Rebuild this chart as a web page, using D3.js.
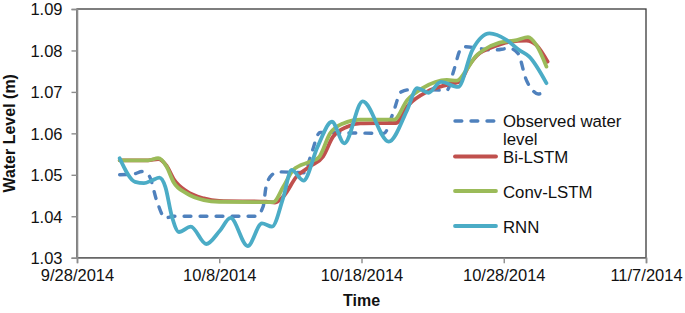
<!DOCTYPE html>
<html><head><meta charset="utf-8">
<script src="https://cdnjs.cloudflare.com/ajax/libs/d3/7.8.5/d3.min.js"></script>
<style>body{margin:0;background:#fff}svg{display:block;font-family:"Liberation Sans",Arial,sans-serif}</style>
</head><body><svg id="c" width="685" height="313"></svg>
<script>
// ---- data (times as "MM/DD HH", year 2014) ----
const seriesNames = ["Observed water level", "Bi-LSTM", "Conv-LSTM", "RNN"];
const xTickLabels = ["9/28/2014", "10/8/2014", "10/18/2014", "10/28/2014", "11/7/2014"];
const yTickLabels = ["1.03", "1.04", "1.05", "1.06", "1.07", "1.08", "1.09"];

const obsTimes = ["10/01 00","10/02 00","10/02 14","10/03 02","10/03 14","10/04 05","10/04 19","10/10 14","10/11 02","10/11 07","10/11 17","10/12 04","10/14 00","10/14 10","10/15 02","10/19 14","10/20 05","10/20 19","10/21 14","10/24 00","10/24 12","10/24 22","10/25 05","10/27 07","10/28 10","10/29 00","10/29 14","10/30 00","10/30 10","10/30 22"];
const obsValues = [1.0500,1.0502,1.0508,1.0497,1.0440,1.0396,1.0400,1.0400,1.0423,1.0471,1.0500,1.0507,1.0505,1.0544,1.0602,1.0600,1.0648,1.0700,1.0706,1.0704,1.0753,1.0800,1.0809,1.0801,1.0805,1.0793,1.0729,1.0705,1.0695,1.0701];

const biTimes = ["10/01 00","10/03 00","10/03 17","10/04 07","10/04 19","10/05 17","10/06 22","10/08 00","10/11 07","10/11 22","10/12 14","10/13 10","10/14 10","10/15 07","10/16 00","10/17 00","10/17 22","10/20 10","10/21 07","10/22 14","10/24 00","10/24 22","10/25 14","10/26 07","10/27 00","10/28 10","10/29 14","10/30 07","10/31 02"];
const biValues = [1.0535,1.0535,1.0538,1.0522,1.0490,1.0460,1.0443,1.0437,1.0435,1.0433,1.0451,1.0495,1.0521,1.0544,1.0592,1.0616,1.0624,1.0625,1.0668,1.0700,1.0717,1.0725,1.0765,1.0793,1.0805,1.0821,1.0824,1.0813,1.0773];

const convTimes = ["10/01 00","10/03 00","10/03 17","10/04 07","10/04 19","10/05 17","10/06 22","10/08 00","10/11 05","10/11 19","10/12 12","10/13 05","10/14 10","10/15 00","10/15 19","10/16 17","10/17 22","10/20 07","10/21 05","10/22 07","10/24 00","10/24 17","10/25 10","10/26 00","10/26 14","10/27 17","10/28 22","10/29 17","10/30 07","10/31 00"];
const convValues = [1.0535,1.0535,1.0540,1.0520,1.0482,1.0455,1.0439,1.0435,1.0434,1.0434,1.0471,1.0512,1.0532,1.0542,1.0600,1.0624,1.0633,1.0633,1.0680,1.0709,1.0729,1.0727,1.0755,1.0785,1.0801,1.0819,1.0825,1.0832,1.0813,1.0761];

const rnnTimes = ["10/01 00","10/02 02","10/02 17","10/03 07","10/03 19","10/04 05","10/04 16","10/05 04","10/06 00","10/07 02","10/08 01","10/08 19","10/10 00","10/11 00","10/11 17","10/12 12","10/13 02","10/13 22","10/14 22","10/15 22","10/16 19","10/18 02","10/19 22","10/21 05","10/21 22","10/22 17","10/23 14","10/24 19","10/25 19","10/27 00","10/28 05","10/29 02","10/29 19","10/31 00"];
const rnnValues = [1.0540,1.0483,1.0480,1.0487,1.0493,1.0471,1.0400,1.0362,1.0375,1.0333,1.0365,1.0396,1.0328,1.0383,1.0375,1.0445,1.0512,1.0486,1.0568,1.0628,1.0576,1.0677,1.0580,1.0656,1.0709,1.0698,1.0724,1.0712,1.0801,1.0841,1.0825,1.0801,1.0785,1.0721];

const colors = ["#4F81BD", "#C0504D", "#9BBB59", "#4BACC6"];

// ---- chart ----
const W = 685, H = 313;
const m = {left: 77, top: 9, right: 39, bottom: 55.3};
const svg = d3.select("#c");
const parseT = d3.timeParse("%Y/%m/%d %H");
const parseTick = d3.timeParse("%m/%d/%Y");
const tickDates = xTickLabels.map(parseTick);
const x = d3.scaleTime().domain([tickDates[0], tickDates[tickDates.length - 1]]).range([m.left, W - m.right]);
const yTicks = yTickLabels.map(Number);
const y = d3.scaleLinear().domain([yTicks[0], yTicks[yTicks.length - 1]]).range([H - m.bottom, m.top]);

// plot border (top/right)
svg.append("rect").attr("x", m.left).attr("y", m.top)
  .attr("width", W - m.right - m.left).attr("height", H - m.bottom - m.top)
  .attr("fill", "none").attr("stroke", "#3a3a3a").attr("stroke-width", 1.3);

// axes
const xAxis = d3.axisBottom(x).tickValues(tickDates).tickFormat((d, i) => xTickLabels[i]).tickSizeOuter(0).tickSize(5.5).tickPadding(6);
const gx = svg.append("g").attr("transform", `translate(0,${H - m.bottom})`).call(xAxis);
const yAxis = d3.axisLeft(y).tickValues(yTicks).tickFormat((d, i) => yTickLabels[i]).tickSizeOuter(0).tickSize(5.5).tickPadding(9);
const gy = svg.append("g").attr("transform", `translate(${m.left},0)`).call(yAxis);
[gx, gy].forEach(g => {
  g.select(".domain").attr("stroke", "#8c8c8c").attr("stroke-width", 1.6);
  g.selectAll(".tick line").attr("stroke", "#8c8c8c").attr("stroke-width", 1.4);
  g.selectAll("text").attr("fill", "#111").style("font-size", "16.5px").style("font-family", "'Liberation Sans',Arial,sans-serif");
});
gx.selectAll("text").attr("dy", "0.72em");
gy.selectAll("text").attr("dy", "0.36em");

// series
const line = d3.line().x(d => x(d.t)).y(d => y(d.v)).curve(d3.curveMonotoneX);
const build = (times, vals) => times.map((t, i) => ({t: parseT("2014/" + t), v: vals[i]}));
const series = [
  build(obsTimes, obsValues),
  build(biTimes, biValues),
  build(convTimes, convValues),
  build(rnnTimes, rnnValues)
];
const DASH = "6.8,9.2";
series.forEach((s, i) => {
  const p = svg.append("path").datum(s).attr("d", line)
    .attr("fill", "none").attr("stroke", colors[i])
    .attr("stroke-linejoin", "round").attr("stroke-linecap", "round")
    .attr("stroke-width", i === 0 ? 3.4 : 3.8);
  if (i === 0) p.attr("stroke-dasharray", DASH);
});

// legend
const lg = svg.append("g");
const legY = [121, 156.5, 191, 226];
seriesNames.forEach((n, i) => {
  const l = lg.append("line").attr("x1", 455).attr("x2", 496).attr("y1", legY[i]).attr("y2", legY[i])
    .attr("stroke", colors[i]).attr("stroke-width", i === 0 ? 3.4 : 3.8).attr("stroke-linecap", "round");
  if (i === 0) l.attr("stroke-dasharray", DASH);
  const t = lg.append("text").attr("x", 503).attr("y", legY[i] + (i === 0 ? 6 : 6.8))
    .attr("fill", "#111").style("font-size", "16.8px");
  if (i === 0) {
    t.append("tspan").attr("x", 503).text("Observed water");
    t.append("tspan").attr("x", 503).attr("dy", 18).text("level");
  } else t.text(n);
});

// axis titles
svg.append("text").attr("x", (m.left + W - m.right) / 2).attr("y", 306)
  .attr("text-anchor", "middle").style("font-weight", "bold").style("font-size", "16px").attr("fill", "#111").text("Time");
svg.append("text").attr("transform", `translate(14.5,${(m.top + H - m.bottom) / 2}) rotate(-90)`)
  .attr("text-anchor", "middle").style("font-weight", "bold").style("font-size", "16px").attr("fill", "#111").text("Water Level (m)");
</script></body></html>
